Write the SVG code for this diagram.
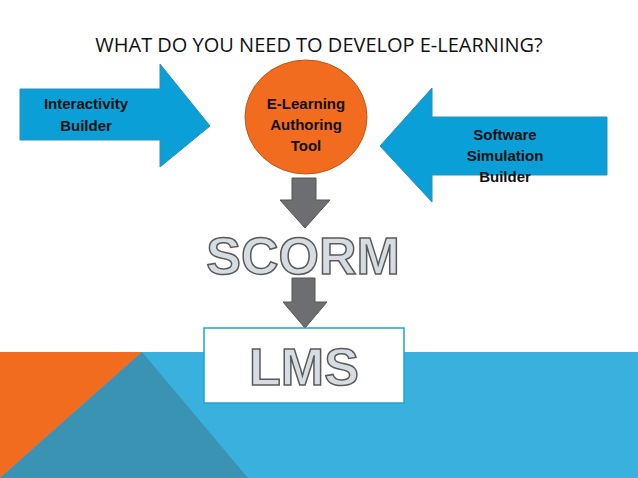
<svg xmlns="http://www.w3.org/2000/svg" width="638" height="478" viewBox="0 0 638 478">
<style>
.lbl{font-family:"Liberation Sans",Arial,sans-serif;font-weight:bold;font-size:15px;fill:#111;text-anchor:middle}
.big{font-family:"Liberation Sans",Arial,sans-serif;font-weight:bold;font-size:52px;fill:#d6dde2;stroke:#5a5a5a;stroke-width:1.5;text-anchor:middle}
.blue{fill:#0a9fd6;stroke:#2b8fc0;stroke-width:1}
.down{fill:#6d6e71;stroke:#555;stroke-width:1}
</style>
<rect width="638" height="478" fill="#fff"/>
<rect x="0" y="352" width="638" height="126" fill="#3ab0de"/>
<polygon points="0,352 142,352 0,478" fill="#f26c1f"/>
<polygon points="142,352 248,478 0,478" fill="#3a93b3"/>
<text x="319" y="52" font-family="Open Sans,Liberation Sans,sans-serif" font-size="20" fill="#111" text-anchor="middle">WHAT DO YOU NEED TO DEVELOP E-LEARNING?</text>
<g id="interactivity">
<polygon class="blue" points="20,89 160,89 160,64 210,126 160,167 160,140 20,140"/>
<text class="lbl" x="86" y="109">Interactivity</text>
<text class="lbl" x="86" y="131">Builder</text>
</g>
<g id="authoring">
<ellipse cx="306" cy="117" rx="61" ry="57" fill="#f26c1f" stroke="#c4561a" stroke-width="1"/>
<text class="lbl" x="306" y="109">E-Learning</text>
<text class="lbl" x="306" y="130">Authoring</text>
<text class="lbl" x="306" y="151">Tool</text>
</g>
<g id="simulation">
<polygon class="blue" points="607,117 432,117 432,88 380,146 432,202 432,175 607,175"/>
<text class="lbl" x="505" y="140">Software</text>
<text class="lbl" x="505" y="161">Simulation</text>
<text class="lbl" x="505" y="182">Builder</text>
</g>
<g id="connectors">
<polygon class="down" points="292,178 316,178 316,200 330,200 305,228 280,200 292,200"/>
<polygon class="down" points="292,278 315,278 315,302 327,302 305,328 283,302 292,302"/>
</g>
<g id="scorm">
<text class="big" x="303" y="274">SCORM</text>
</g>
<g id="lms">
<rect x="204" y="328" width="200" height="75" fill="#fff" stroke="#1fa3d8" stroke-width="1.5"/>
<text class="big" x="304" y="385">LMS</text>
</g>
</svg>
